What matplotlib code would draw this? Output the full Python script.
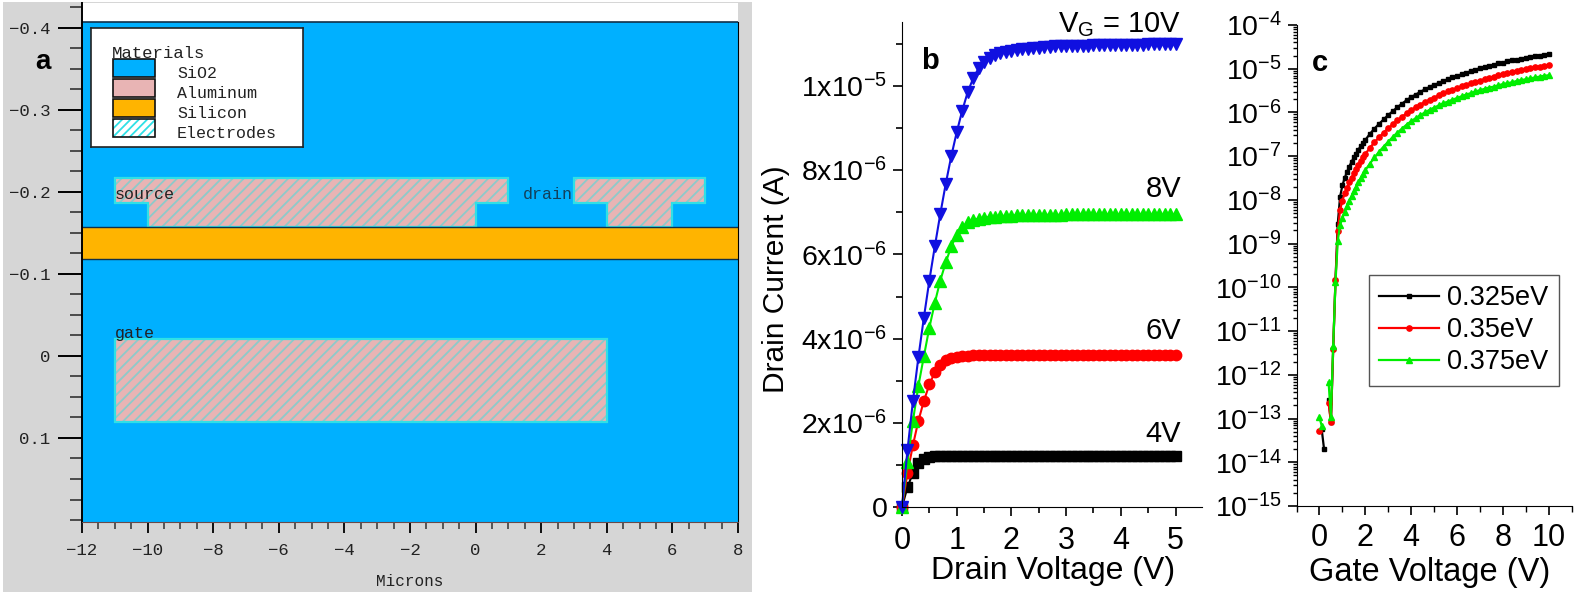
import numpy as np
import matplotlib
matplotlib.use("Agg")
import matplotlib.pyplot as plt
from matplotlib.patches import Polygon, Rectangle
from matplotlib.ticker import MultipleLocator, LogLocator, NullFormatter, FixedLocator

W, H = 1575, 595

# panel a, device outline in microns
device_x = [-12, 8]
oxide_y = [-0.407, 0.2024]
silicon_y = [-0.157, -0.118]
source_x = [-11, 1, 1, 0, 0, -10, -10, -11]
source_y = [-0.217, -0.217, -0.186, -0.186, -0.157, -0.157, -0.186, -0.186]
drain_x = [3, 7, 7, 6, 6, 4, 4, 3]
drain_y = [-0.217, -0.217, -0.186, -0.186, -0.157, -0.157, -0.186, -0.186]
gate_x = [-11, 4, 4, -11]
gate_y = [-0.02, -0.02, 0.08, 0.08]
materials = ["SiO2", "Aluminum", "Silicon", "Electrodes"]
a_yticks = [-0.4, -0.3, -0.2, -0.1, 0, 0.1]
a_ylabels = ["\u22120.4", "\u22120.3", "\u22120.2", "\u22120.1", "0", "0.1"]

# panel b, output curves
vd = [round(0.1 * i, 1) for i in range(51)]
id_4v = [0, .47, .81, 1.05, 1.15, 1.19, 1.2, 1.21, 1.21, 1.21, 1.22] + [1.22] * 40
id_6v = [0, .81, 1.47, 2.05, 2.52, 2.91, 3.2, 3.38, 3.49, 3.54, 3.57, 3.58, 3.59, 3.6, 3.6, 3.61,
         3.61, 3.61, 3.61, 3.62] + [3.62] * 31
id_8v = [0, 1.08, 2.05, 2.88, 3.58, 4.26, 4.85, 5.38, 5.81, 6.19, 6.46, 6.65, 6.76, 6.82, 6.85, 6.87,
         6.89, 6.9, 6.91, 6.92, 6.92, 6.93, 6.93, 6.93, 6.94, 6.94, 6.94, 6.94, 6.94, 6.94] + [6.95] * 21
id_10v = [0, 1.35, 2.52, 3.56, 4.5, 5.38, 6.19, 6.96, 7.68, 8.33, 8.9, 9.41, 9.85, 10.18, 10.42, 10.58,
          10.67, 10.73, 10.78, 10.81, 10.84, 10.86, 10.88, 10.89, 10.9, 10.91, 10.92, 10.93, 10.94, 10.94,
          10.95, 10.95, 10.96, 10.96, 10.96, 10.97, 10.97, 10.97, 10.97, 10.98, 10.98, 10.98, 10.98, 10.98,
          10.98, 10.99, 10.99, 10.99, 10.99, 10.99, 10.99]
b_yticks = [0, 2e-6, 4e-6, 6e-6, 8e-6, 1e-5]
b_ylabels = ["0", "2x10$^{-6}$", "4x10$^{-6}$", "6x10$^{-6}$", "8x10$^{-6}$", "1x10$^{-5}$"]
curve_labels = ["V$_G$ = 10V", "8V", "6V", "4V"]
curve_label_y = [11.47e-6, 7.55e-6, 4.18e-6, 1.73e-6]

# panel c, transfer curves (log10 of current)
vg_high = [1.0, 1.1, 1.2, 1.3, 1.4, 1.5, 1.6, 1.7, 1.8, 1.9, 2.0, 2.2, 2.4, 2.6, 2.8, 3.0, 3.2, 3.4, 3.6, 3.8,
           4.0, 4.2, 4.4, 4.6, 4.8, 5.0, 5.2, 5.4, 5.6, 5.8, 6.0, 6.2, 6.4, 6.6, 6.8, 7.0, 7.2, 7.4, 7.6, 7.8,
           8.0, 8.2, 8.4, 8.6, 8.8, 9.0, 9.2, 9.4, 9.6, 9.8, 10.0]
log_black_high = [-7.67, -7.5, -7.36, -7.24, -7.13, -7.03, -6.94, -6.85, -6.77, -6.7, -6.63, -6.49, -6.37, -6.26,
                  -6.16, -6.06, -5.97, -5.88, -5.8, -5.72, -5.65, -5.59, -5.53, -5.47, -5.42, -5.37, -5.33, -5.28,
                  -5.24, -5.2, -5.16, -5.13, -5.09, -5.06, -5.02, -4.99, -4.96, -4.93, -4.91, -4.88, -4.86, -4.83,
                  -4.81, -4.79, -4.77, -4.75, -4.73, -4.71, -4.7, -4.68, -4.67]
log_red_high = [-8.02, -7.85, -7.72, -7.6, -7.49, -7.39, -7.29, -7.2, -7.11, -7.03, -6.95, -6.81, -6.68, -6.57,
                -6.46, -6.36, -6.27, -6.18, -6.1, -6.02, -5.95, -5.88, -5.82, -5.76, -5.71, -5.66, -5.61, -5.56,
                -5.52, -5.48, -5.44, -5.4, -5.37, -5.33, -5.3, -5.27, -5.24, -5.21, -5.18, -5.15, -5.13, -5.1,
                -5.08, -5.06, -5.03, -5.01, -4.99, -4.97, -4.95, -4.93, -4.91]
log_green_high = [-8.41, -8.27, -8.14, -8.02, -7.91, -7.8, -7.7, -7.6, -7.5, -7.41, -7.32, -7.17, -7.03, -6.9,
                  -6.78, -6.67, -6.56, -6.46, -6.37, -6.28, -6.2, -6.13, -6.06, -6.0, -5.94, -5.89, -5.84, -5.79,
                  -5.75, -5.71, -5.67, -5.63, -5.59, -5.56, -5.52, -5.49, -5.46, -5.43, -5.41, -5.38, -5.35, -5.33,
                  -5.31, -5.28, -5.26, -5.24, -5.22, -5.2, -5.18, -5.16, -5.15]
vg_low = [0.0, 0.1, 0.2, 0.3, 0.4, 0.5, 0.6, 0.7, 0.8, 0.9]
log_black_low = [np.nan, -13.25, -13.69, np.nan, -12.58, -13.08, -11.4, -9.83, -8.54, -7.93]
log_red_low = [-13.28, np.nan, np.nan, np.nan, -12.64, -13.08, -11.4, -9.84, -8.7, -8.23]
log_green_low = [-12.97, -13.17, np.nan, np.nan, -12.17, -12.97, -11.34, -9.88, -8.93, -8.58]
legend_labels = ["0.325eV", "0.35eV", "0.375eV"]
c_exponents = list(range(-15, -3))

plt.rcParams["font.family"] = ["Liberation Sans", "DejaVu Sans"]
plt.rcParams["mathtext.default"] = "regular"
plt.rcParams["hatch.linewidth"] = 1.3


def px_axes(fig, left, right, top, bottom):
    return fig.add_axes([left / W, 1 - bottom / H, (right - left) / W, (bottom - top) / H])


fig = plt.figure(figsize=(W / 100, H / 100), dpi=100, facecolor="white")

# grey window behind panel a
fig.patches.append(Rectangle((3 / W, 1 - 592 / H), 749 / W, 590 / H, transform=fig.transFigure,
                             facecolor="#d6d6d6", edgecolor="none", zorder=-5))

# ---- panel a
ax = px_axes(fig, 82, 738, 3, 522)
ax.set_facecolor("white")
ax.set_xlim(device_x)
ax.set_ylim(0.2024, -0.43)
blue = "#00b0ff"
ax.add_patch(Rectangle((device_x[0], oxide_y[0]), device_x[1] - device_x[0], oxide_y[1] - oxide_y[0],
                       facecolor=blue, edgecolor="none"))
ax.plot(device_x, [oxide_y[0]] * 2, color="#10304a", lw=1.2)
ax.add_patch(Rectangle((device_x[0], silicon_y[0]), device_x[1] - device_x[0], silicon_y[1] - silicon_y[0],
                       facecolor="#ffb400", edgecolor="none"))
ax.plot(device_x, [silicon_y[1]] * 2, color="#10304a", lw=1)
ax.plot(device_x, [silicon_y[0]] * 2, color="#10304a", lw=1)
for xs, ys in [(source_x, source_y), (drain_x, drain_y), (gate_x, gate_y)]:
    ax.add_patch(Polygon(list(zip(xs, ys)), closed=True, facecolor="#e8b4b4", edgecolor="#8ccaca",
                         hatch="///", lw=0))
    ax.add_patch(Polygon(list(zip(xs, ys)), closed=True, facecolor="none", edgecolor="#2fe0e6", lw=1.6))
mono = dict(family="Liberation Mono", color="#222222")
ax.text(-11, -0.197, "source", fontsize=12, va="center", ha="left", **mono)
ax.text(1.45, -0.197, "drain", fontsize=12, va="center", ha="left", family="Liberation Mono", color="#12405c")
ax.text(-11, -0.027, "gate", fontsize=12, va="center", ha="left", **mono)

ax.spines["top"].set_visible(False)
ax.spines["right"].set_bounds(oxide_y[1], oxide_y[0])
ax.spines["left"].set_linewidth(1.4)
ax.spines["bottom"].set_color("#6a4a4a")
ax.xaxis.set_major_locator(MultipleLocator(2))
ax.xaxis.set_minor_locator(MultipleLocator(0.5))
ax.set_yticks(a_yticks)
ax.set_yticklabels(a_ylabels)
ax.yaxis.set_minor_locator(MultipleLocator(0.025))
ax.tick_params(axis="y", which="major", length=17, width=1.4, labelsize=12.5, pad=6)
ax.tick_params(axis="y", which="minor", length=8.5, width=1.2, color="#333333")
ax.tick_params(axis="x", which="major", length=8, width=1.3, labelsize=12.5, pad=7)
ax.tick_params(axis="x", which="minor", length=5, width=1.1, color="#333333")
for lab in ax.get_xticklabels() + ax.get_yticklabels():
    lab.set_family("Liberation Mono")
    lab.set_color("#222222")
ax.set_xlabel("Microns", fontsize=11.5, **mono)
ax.xaxis.set_label_coords(0.5, (522 - 582) / 519)
ax.xaxis.label.set_va("center")
fig.text(43 / W, 1 - 62 / H, "a", fontsize=20, fontweight="bold", ha="center", va="center")

# legend box of panel a, drawn over the device
lg = fig.add_axes([91 / W, 1 - 147 / H, 212 / W, 119 / H])
lg.set_xlim(91, 303)
lg.set_ylim(147, 28)
lg.set_xticks([])
lg.set_yticks([])
lg.set_facecolor("white")
for s in lg.spines.values():
    s.set_linewidth(1.2)
    s.set_color("#222222")
lg.text(112, 54, "Materials", fontsize=12.5, va="center", **mono)
swatches = [dict(facecolor=blue), dict(facecolor="#e8b4b4"), dict(facecolor="#ffb400"),
            dict(facecolor="white", hatch="////", edgecolor="#2fe0e6")]
for i, (name, st) in enumerate(zip(materials, swatches)):
    y0 = 59 + 20 * i
    lg.add_patch(Rectangle((113, y0), 42, 18, lw=0, **st))
    lg.add_patch(Rectangle((113, y0), 42, 18, facecolor="none", edgecolor="#111111", lw=1.2))
    lg.text(177, y0 + 15, name, fontsize=12, va="center", **mono)

# ---- panel b
left, right, top, bottom = 902, 1202, 21.5, 507
ax = px_axes(fig, left, right, top, bottom)
ax.plot(vd, np.array(id_4v) * 1e-6, "-s", color="black", ms=6.5, lw=1.5, clip_on=False)
ax.plot(vd, np.array(id_6v) * 1e-6, "-o", color="#ff0000", ms=7.5, lw=1.5, clip_on=False)
ax.plot(vd, np.array(id_8v) * 1e-6, "-^", color="#00ee00", ms=8.5, lw=1.5, clip_on=False)
ax.plot(vd, np.array(id_10v) * 1e-6, "-v", color="#1010e0", ms=8.5, lw=1.5, clip_on=False)
ax.set_xlim(0, (right - left) / 54.7)
ax.set_ylim(0, (bottom - top) / 42.1 * 1e-6)
ax.spines["top"].set_visible(False)
ax.spines["right"].set_visible(False)
ax.xaxis.set_major_locator(MultipleLocator(1))
ax.xaxis.set_minor_locator(MultipleLocator(0.5))
ax.set_yticks(b_yticks)
ax.set_yticklabels(b_ylabels)
ax.yaxis.set_minor_locator(MultipleLocator(1e-6))
ax.tick_params(which="major", length=6.5, width=1.2, labelsize=20.5, pad=4)
ax.tick_params(axis="x", which="major", labelsize=22, pad=7)
ax.tick_params(which="minor", length=4, width=1.2)
ax.set_xlabel("Drain Voltage (V)", fontsize=23)
ax.xaxis.set_label_coords((1053 - left) / (right - left), (bottom - 571) / (bottom - top))
ax.xaxis.label.set_va("center")
ax.set_ylabel("Drain Current (A)", fontsize=21.5)
ax.yaxis.set_label_coords((776 - left) / (right - left), (bottom - 279) / (bottom - top))
ax.yaxis.label.set_va("center")
ax.text(0.51, 10.6e-6, "b", fontsize=21, fontweight="bold", ha="center", va="center")
for txt, y in zip(curve_labels, curve_label_y):
    ax.text(5.1, y, txt, fontsize=21, ha="right", va="center", clip_on=False)

# ---- panel c
left, right, top, bottom = 1296.5, 1571.7, 25, 506
ax = px_axes(fig, left, right, top, bottom)
series = [(log_black_low, log_black_high, "black", "s", 3.4),
          (log_red_low, log_red_high, "#ff0000", "o", 3.8),
          (log_green_low, log_green_high, "#00ee00", "^", 4.0)]
vg = vg_low + vg_high
for (low, high, c, m, ms), label in zip(series, legend_labels):
    ax.plot(vg, 10.0 ** np.array(low + high), "-", color=c, marker=m, ms=ms, lw=1.6, label=label)
ax.set_yscale("log")
ax.set_xlim(-1, 11)
ax.set_ylim(1e-15, 1e-4)
ax.spines["top"].set_visible(False)
ax.spines["right"].set_visible(False)
ax.xaxis.set_major_locator(MultipleLocator(2))
ax.xaxis.set_minor_locator(MultipleLocator(1))
ax.yaxis.set_major_locator(FixedLocator([10.0 ** e for e in c_exponents]))
ax.set_yticklabels(["10$^{%d}$" % e for e in c_exponents])
ax.yaxis.set_minor_locator(LogLocator(base=10, subs=np.arange(2, 10), numticks=20))
ax.yaxis.set_minor_formatter(NullFormatter())
ax.tick_params(which="major", length=6.5, width=1.2, labelsize=20.5, pad=4)
ax.tick_params(axis="x", which="major", labelsize=22, pad=6)
ax.tick_params(which="minor", length=4, width=1)
ax.tick_params(axis="y", which="minor", length=3)
ax.set_xlabel("Gate Voltage (V)", fontsize=23.5)
ax.xaxis.set_label_coords((1430 - left) / (right - left), (bottom - 572) / (bottom - top))
ax.xaxis.label.set_va("center")
ax.text(0.03, 10 ** -4.87, "c", fontsize=21, fontweight="bold", ha="center", va="center")
ax.legend(loc="upper left", bbox_to_anchor=((1369 - left) / (right - left), 1 - (275 - top) / (bottom - top)),
          fontsize=19.5, fancybox=False, edgecolor="#555555", framealpha=1, labelspacing=0.22,
          handlelength=2.2, borderpad=0.38, handletextpad=0.3, borderaxespad=0)

fig.savefig("out.png", dpi=100)
